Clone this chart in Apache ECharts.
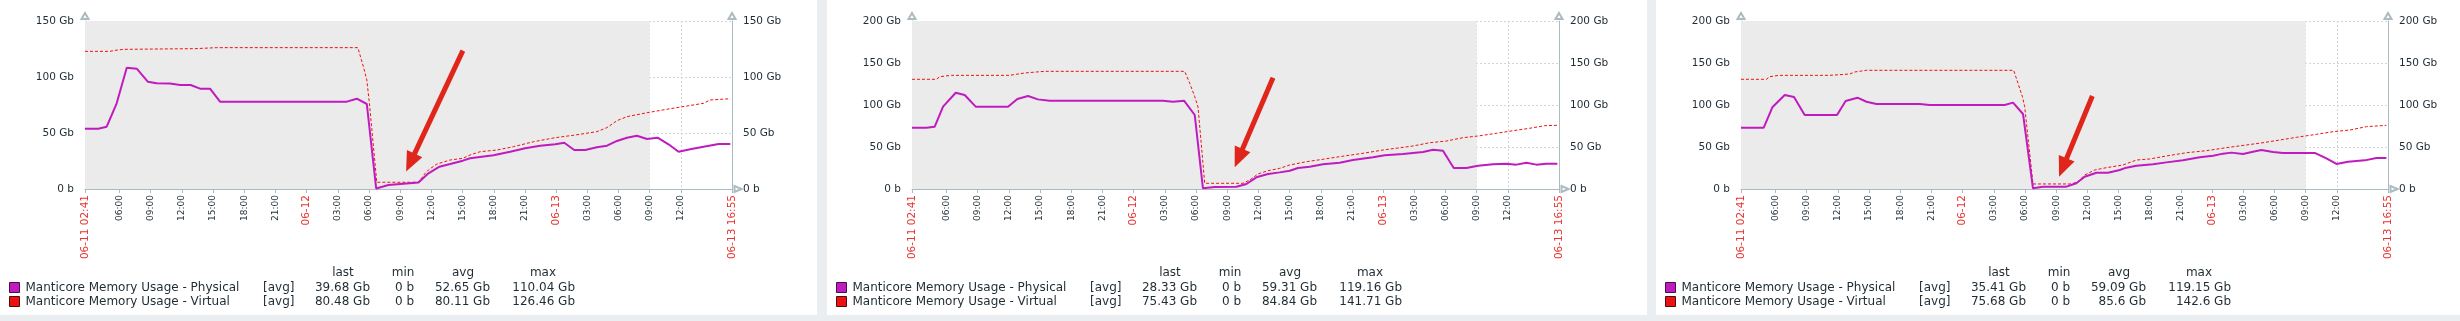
<!DOCTYPE html>
<html><head><meta charset="utf-8">
<script src="https://cdn.jsdelivr.net/npm/echarts@6/dist/echarts.min.js"></script>
<style>html,body{margin:0;padding:0;background:#ebeef0}#c{width:2460px;height:321px}</style>
</head><body><div id="c"></div>
<script>
// ---------------- DATA ----------------
const SERIES_NAMES = ['Manticore Memory Usage - Physical', 'Manticore Memory Usage - Virtual'];
const STAT_HEADERS = ['last', 'min', 'avg', 'max'];
const AGG_LABEL = '[avg]';

// x values: hours since 06-11 00:00
const X_MIN = 2.6833;   // 06-11 02:41
const X_MAX = 64.9167;  // 06-13 16:55
const TICK_HOURS  = [2.6833, 6, 9, 12, 15, 18, 21, 24, 27, 30, 33, 36, 39, 42, 45, 48, 51, 54, 57, 60, 64.9167];
const TICK_LABELS = ['06-11 02:41', '06:00', '09:00', '12:00', '15:00', '18:00', '21:00', '06-12', '03:00', '06:00', '09:00', '12:00', '15:00', '18:00', '21:00', '06-13', '03:00', '06:00', '09:00', '12:00', '06-13 16:55'];
const SHADE = [2.6833, 57];

const Y_MAX = [150, 200, 200];
const Y_INTERVAL = 50;

const P1_PHYS = [[2.68,53.8],[3.96,53.8],[4.77,55.6],[5.73,76.5],[6.70,108.3],[7.66,107.4],[8.72,95.8],[9.58,94.4],[10.86,94.1],[11.83,92.9],[12.85,92.9],[13.75,89.6],[14.71,89.6],[15.67,78.0],[27.87,78.0],[28.83,80.6],[29.79,75.9],[30.69,0.5],[31.87,3.6],[34.76,5.8],[35.72,14.0],[36.78,19.9],[37.81,22.3],[39.03,25.3],[39.73,27.4],[40.86,28.8],[41.97,30.1],[43.58,33.3],[45.02,36.3],[46.47,38.7],[47.91,39.9],[48.78,41.3],[49.74,34.8],[50.80,34.8],[51.92,37.2],[52.89,38.7],[53.85,42.9],[54.81,45.8],[55.77,47.6],[56.74,44.6],[57.76,45.8],[58.81,39.9],[59.78,33.3],[60.90,35.4],[62.18,37.8],[63.63,40.2],[64.75,40.2]];
const P1_VIRT = [[2.68,122.9],[5.09,122.9],[5.57,123.8],[6.37,124.7],[13.27,125.3],[15.36,126.2],[28.93,126.2],[29.46,109.2],[29.79,97.3],[30.04,76.5],[30.75,6.0],[34.73,6.0],[34.92,8.0],[35.40,14.0],[35.72,17.0],[36.53,22.3],[37.81,25.9],[39.03,27.4],[39.73,30.4],[40.69,33.3],[42.30,34.8],[43.90,37.8],[45.82,42.2],[47.91,45.8],[49.83,48.2],[51.92,51.2],[52.89,54.8],[53.85,61.0],[54.81,64.6],[56.74,68.1],[58.66,71.2],[60.58,74.1],[62.18,76.5],[62.82,79.5],[64.75,80.6]];

const P2_PHYS = [[2.68,73.0],[4.07,73.0],[4.87,74.2],[5.67,98.0],[6.89,114.6],[7.75,111.9],[8.81,98.0],[11.92,98.0],[12.82,107.1],[13.84,110.7],[14.80,106.7],[15.93,105.1],[26.83,105.1],[27.79,103.9],[28.85,105.1],[29.88,88.1],[30.67,0.8],[31.80,2.4],[33.89,2.7],[34.85,6.0],[35.81,13.9],[36.93,17.9],[38.05,19.8],[39.02,21.8],[39.81,25.0],[40.94,26.6],[42.22,29.4],[43.82,31.3],[45.10,34.5],[47.03,37.7],[48.15,40.1],[49.91,41.7],[51.84,44.0],[52.80,46.8],[53.76,45.6],[54.79,25.0],[56.01,25.0],[57.13,27.7],[58.57,29.4],[59.86,30.2],[60.82,29.0],[61.78,31.3],[62.74,29.0],[63.70,30.2],[64.76,30.2]];
const P2_VIRT = [[2.68,130.6],[5.03,130.6],[5.35,133.7],[6.47,135.3],[12.05,135.3],[12.24,136.9],[13.52,138.1],[14.65,139.3],[15.45,140.1],[28.91,140.1],[29.40,125.8],[29.88,109.9],[30.19,98.0],[30.84,6.8],[34.52,6.8],[35.17,10.7],[35.96,17.9],[36.93,21.8],[38.05,24.6],[39.02,28.6],[40.62,32.5],[42.22,35.4],[43.82,38.5],[46.06,42.5],[47.99,46.4],[50.87,51.2],[52.48,55.1],[54.09,57.1],[55.68,61.1],[57.13,63.1],[58.90,66.3],[60.49,69.4],[62.10,72.3],[63.54,75.4],[64.76,75.8]];

const P3_PHYS = [[2.68,73.0],[4.87,73.0],[5.70,97.3],[6.89,111.9],[7.78,109.5],[8.81,88.1],[11.92,88.1],[12.75,104.8],[13.88,108.7],[14.75,103.9],[15.71,101.2],[19.87,101.2],[20.83,100.0],[28.05,100.0],[28.85,102.8],[29.81,89.3],[30.77,0.8],[31.73,2.8],[33.98,2.8],[34.94,6.8],[35.74,14.6],[36.87,19.4],[37.98,19.4],[39.11,22.6],[39.75,25.4],[40.72,27.7],[42.31,29.4],[43.60,31.7],[45.20,34.1],[46.81,37.7],[48.09,39.7],[49.05,42.1],[49.85,43.3],[50.97,41.7],[51.93,44.4],[52.74,46.4],[53.86,44.0],[54.82,42.9],[57.87,42.9],[58.99,36.5],[59.96,29.8],[61.07,32.5],[62.68,34.1],[63.80,36.9],[64.76,36.9]];
const P3_VIRT = [[2.68,130.6],[5.13,130.6],[5.44,133.7],[6.34,135.3],[11.20,135.3],[11.38,136.9],[13.14,136.9],[13.62,139.3],[14.75,141.3],[28.91,141.3],[29.33,125.8],[29.75,109.9],[29.97,98.0],[30.77,6.0],[34.46,6.0],[35.10,8.7],[35.74,16.7],[36.70,22.6],[37.83,25.4],[39.43,28.6],[40.72,34.5],[42.00,35.7],[43.60,39.3],[45.53,43.2],[47.45,45.6],[49.37,49.2],[51.30,52.4],[52.89,55.1],[54.50,58.3],[56.11,61.5],[58.03,65.1],[59.63,68.2],[61.24,70.2],[62.84,74.2],[64.76,75.8]];

const PHYS = [P1_PHYS, P2_PHYS, P3_PHYS];
const VIRT = [P1_VIRT, P2_VIRT, P3_VIRT];

// annotation arrows: [tail [h, Gb], head [h, Gb]]
const ARROWS = [
  [[39.03, 123.5], [33.98, 23.6]],
  [[37.41, 132.5], [34.10, 36.8]],
  [[36.48, 110.7], [33.64, 25.6]]
];

const STATS_PHYS = [
  ['39.68 Gb', '0 b', '52.65 Gb', '110.04 Gb'],
  ['28.33 Gb', '0 b', '59.31 Gb', '119.16 Gb'],
  ['35.41 Gb', '0 b', '59.09 Gb', '119.15 Gb']
];
const STATS_VIRT = [
  ['80.48 Gb', '0 b', '80.11 Gb', '126.46 Gb'],
  ['75.43 Gb', '0 b', '84.84 Gb', '141.71 Gb'],
  ['75.68 Gb', '0 b', '85.6 Gb', '142.6 Gb']
];

// ---------------- LAYOUT / STYLE ----------------
const FONT = 'DejaVu Sans';
const PANEL_X = [0, 827, 1656];
const PANEL_W = [817, 820, 804];
const PLOT_L = 85, PLOT_W = 647, PLOT_T = 21, PLOT_H = 168;
const C_PHYS = '#bf1bbf', C_VIRT = '#ee1111', C_AXIS = '#acbbc2', C_GRID = '#cfd7db', C_TEXT = '#1f2c33';
const C_RED_LBL = '#e8322f', C_ARROW = '#e0261a';
const COL_RIGHT = [370, 414, 490, 575];
const HEAD_CENTER = [343, 403, 463, 543];

const grids = [], xAxes = [], yAxes = [], series = [], graphics = [];

function xLabel(v) {
  const i = TICK_HOURS.findIndex(t => Math.abs(t - v) < 1e-3);
  if (i < 0) return '';
  const s = TICK_LABELS[i];
  return s.indexOf('-') >= 0 ? '{d|' + s + '}' : '{t|' + s + '}';
}
const yLabel = v => v === 0 ? '0 b' : v + ' Gb';

for (let p = 0; p < 3; p++) {
  const ox = PANEL_X[p];
  graphics.push({type: 'rect', z: -100, shape: {x: ox, y: 0, width: PANEL_W[p], height: 315}, style: {fill: '#ffffff'}});
  grids.push({left: ox + PLOT_L, top: PLOT_T, width: PLOT_W, height: PLOT_H, containLabel: false, outerBoundsMode: 'none'});
  xAxes.push({
    type: 'value', gridIndex: p, min: X_MIN, max: X_MAX,
    axisLine: {show: true, onZero: false, symbol: ['none', 'emptyTriangle'], symbolSize: [6, 7], symbolOffset: [0, 6], lineStyle: {color: C_AXIS, width: 1}},
    axisTick: {show: true, length: 4, customValues: TICK_HOURS, lineStyle: {color: C_AXIS}},
    axisLabel: {show: true, customValues: TICK_HOURS, rotate: 90, margin: 6, formatter: xLabel, fontFamily: FONT,
      rich: {d: {color: C_RED_LBL, fontSize: 10.5, fontFamily: FONT}, t: {color: C_TEXT, fontSize: 9, fontFamily: FONT}}},
    splitLine: {show: true, lineStyle: {color: C_GRID, type: [2, 2], width: 1}}
  });
  const yBase = {
    type: 'value', gridIndex: p, min: 0, max: Y_MAX[p], interval: Y_INTERVAL,
    axisLine: {show: true, onZero: false, symbol: ['none', 'emptyTriangle'], symbolSize: [7, 6], symbolOffset: [0, 5], lineStyle: {color: C_AXIS, width: 1}},
    axisTick: {show: false},
    axisLabel: {formatter: yLabel, color: C_TEXT, fontSize: 10.5, fontFamily: FONT, margin: 11}
  };
  yAxes.push(Object.assign({}, yBase, {position: 'left', splitLine: {show: true, lineStyle: {color: C_GRID, type: [2, 2], width: 1}}}));
  yAxes.push(Object.assign({}, yBase, {position: 'right', splitLine: {show: false}}));

  // shading
  series.push({
    type: 'line', xAxisIndex: p, yAxisIndex: p * 2, data: [], z: -1, silent: true,
    markArea: {silent: true, itemStyle: {color: '#ebebeb'}, data: [[{xAxis: SHADE[0]}, {xAxis: SHADE[1]}]]}
  });
  series.push({
    name: SERIES_NAMES[1], type: 'line', xAxisIndex: p, yAxisIndex: p * 2, data: VIRT[p],
    symbol: 'none', silent: true, z: 3,
    lineStyle: {color: C_VIRT, width: 1, type: [3, 2]}
  });
  series.push({
    name: SERIES_NAMES[0], type: 'line', xAxisIndex: p, yAxisIndex: p * 2, data: PHYS[p],
    symbol: 'none', silent: true, z: 4,
    lineStyle: {color: C_PHYS, width: 2},
    markLine: {
      silent: true, animation: false, symbol: ['none', 'triangle'], symbolSize: [17, 20],
      label: {show: false}, lineStyle: {color: C_ARROW, width: 5, type: 'solid'},
      itemStyle: {color: C_ARROW},
      data: [[{coord: ARROWS[p][0]}, {coord: ARROWS[p][1]}]]
    }
  });

  // legend table
  const txt = (x, y, s, align) => ({type: 'text', z: 10, x: x, y: y,
    style: {text: s, fill: C_TEXT, font: '12px "' + FONT + '"', textAlign: align, align: align, textVerticalAlign: 'middle', verticalAlign: 'middle'}});
  STAT_HEADERS.forEach((h, i) => graphics.push(txt(ox + HEAD_CENTER[i], 273, h, 'center')));
  [[C_PHYS, '#4a1046', STATS_PHYS[p], SERIES_NAMES[0], 288], [C_VIRT, '#4a1010', STATS_VIRT[p], SERIES_NAMES[1], 302]].forEach(r => {
    graphics.push({type: 'rect', z: 10, shape: {x: ox + 9.5, y: r[4] - 5.5, width: 10, height: 10}, style: {fill: r[0], stroke: r[1], lineWidth: 1}});
    graphics.push(txt(ox + 25.5, r[4], r[3], 'left'));
    graphics.push(txt(ox + 263, r[4], AGG_LABEL, 'left'));
    r[2].forEach((v, i) => graphics.push(txt(ox + COL_RIGHT[i], r[4], v, 'right')));
  });
}

const chart = echarts.init(document.getElementById('c'), null, {renderer: 'canvas'});
chart.setOption({
  backgroundColor: '#ebeef0',
  animation: false,
  textStyle: {fontFamily: FONT},
  grid: grids, xAxis: xAxes, yAxis: yAxes, series: series, graphic: graphics
});
</script></body></html>
